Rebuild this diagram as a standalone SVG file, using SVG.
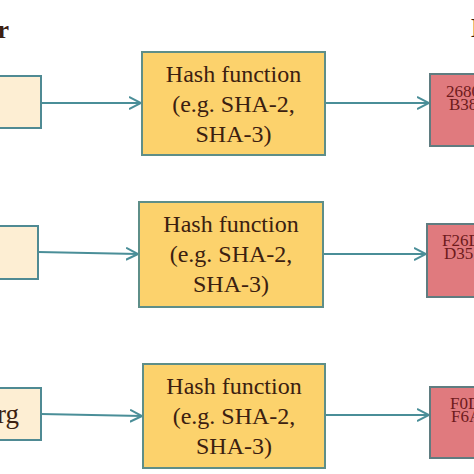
<svg xmlns="http://www.w3.org/2000/svg" width="474" height="474" viewBox="0 0 474 474">
<style>
.in{fill:#fdeed3;stroke:#4f8a93;stroke-width:2}
.hf{fill:#fcd26c;stroke:#5e8e88;stroke-width:2}
.out{fill:#e07a7e;stroke:#5f7c80;stroke-width:2}
.t{font-family:"Liberation Serif",serif;fill:#3b2010}
.ht{font-size:24px;text-anchor:middle}
.ot{font-family:"Liberation Serif",serif;fill:#6e1a1c;font-size:17px}
.c{stroke:#4a8e98;stroke-width:2;fill:none}
</style>
<defs>
<marker id="a" markerWidth="14" markerHeight="14" refX="12" refY="6" orient="auto" markerUnits="userSpaceOnUse" viewBox="0 0 14 12">
<path d="M0,0 L12,6 L0,12" fill="none" stroke="#4a8e98" stroke-width="2"/>
</marker>
</defs>
<g id="headers">
<text class="t" x="9" y="38" font-size="26" font-weight="bold" text-anchor="end">r</text>
<text class="t" x="471" y="37" font-size="27" font-weight="bold">D</text>
</g>
<g id="connectors">
<line class="c" x1="41" y1="103" x2="141" y2="103" marker-end="url(#a)"/>
<line class="c" x1="325" y1="103" x2="429" y2="103" marker-end="url(#a)"/>
<line class="c" x1="38" y1="252" x2="138" y2="254" marker-end="url(#a)"/>
<line class="c" x1="323" y1="254" x2="426" y2="254" marker-end="url(#a)"/>
<line class="c" x1="41" y1="414" x2="142" y2="416" marker-end="url(#a)"/>
<line class="c" x1="325" y1="415" x2="429" y2="415" marker-end="url(#a)"/>
</g>
<g id="input1"><rect class="in" x="-5" y="76" width="46" height="52"/></g>
<g id="input2"><rect class="in" x="-5" y="226" width="43" height="53"/></g>
<g id="input3"><rect class="in" x="-5" y="388" width="46" height="52"/>
<text class="t" x="19" y="423" font-size="27" text-anchor="end">rg</text></g>
<g id="hash1"><rect class="hf" x="142" y="52" width="183" height="103"/>
<text class="t ht" x="233.5" y="82">Hash function</text>
<text class="t ht" x="233.5" y="112">(e.g. SHA-2,</text>
<text class="t ht" x="233.5" y="142">SHA-3)</text></g>
<g id="hash2"><rect class="hf" x="139" y="202" width="184" height="105"/>
<text class="t ht" x="231" y="232">Hash function</text>
<text class="t ht" x="231" y="262">(e.g. SHA-2,</text>
<text class="t ht" x="231" y="292">SHA-3)</text></g>
<g id="hash3"><rect class="hf" x="143" y="364" width="182" height="104"/>
<text class="t ht" x="234" y="394">Hash function</text>
<text class="t ht" x="234" y="424">(e.g. SHA-2,</text>
<text class="t ht" x="234" y="454">SHA-3)</text></g>
<g id="out1"><rect class="out" x="430" y="74" width="60" height="72"/>
<text class="ot" x="446" y="97">2680</text>
<text class="ot" x="449" y="110">B38</text></g>
<g id="out2"><rect class="out" x="427" y="224" width="60" height="73"/>
<text class="ot" x="442" y="246">F26D</text>
<text class="ot" x="444" y="259">D35</text></g>
<g id="out3"><rect class="out" x="430" y="387" width="60" height="71"/>
<text class="ot" x="450" y="409">F0D</text>
<text class="ot" x="451" y="422">F6A</text></g>
</svg>
